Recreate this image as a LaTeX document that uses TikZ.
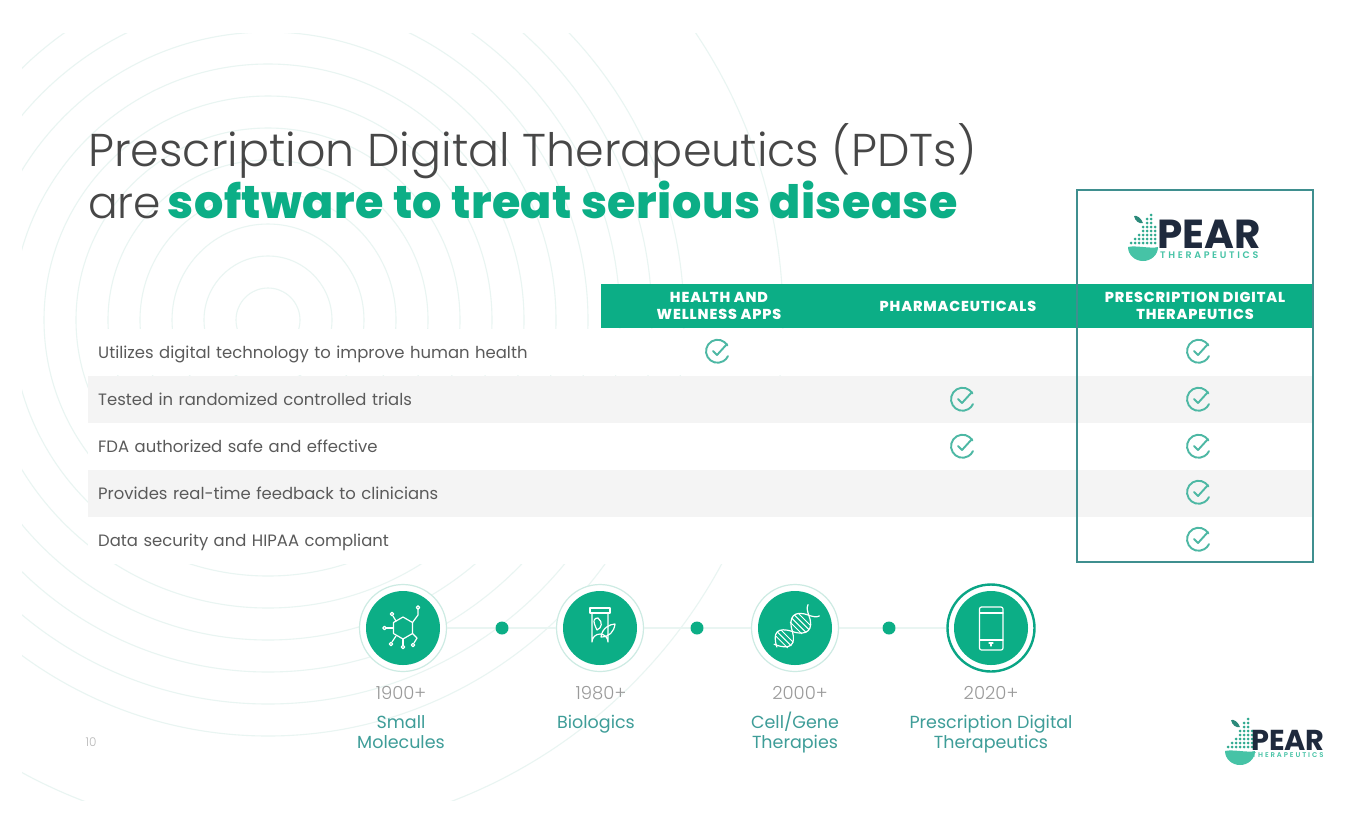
\documentclass[tikz,border=0pt]{standalone}
\usepackage{fontspec}
\setmainfont{Poppins Light}
\newfontfamily\titlebold{Poppins ExtraBold}[LetterSpace=1]
\newfontfamily\headbold{Poppins ExtraBold}[LetterSpace=6]
\newfontfamily\logobold{Poppins Bold}
\newfontfamily\logosmall{Poppins SemiBold}[LetterSpace=28]
\newfontfamily\bodyfont{Poppins}
\usepackage{tikz}
\usetikzlibrary{positioning, arrows.meta, shapes.geometric, fit}
\usepackage{xcolor}
\definecolor{peargreen}{HTML}{0CAE86}
\definecolor{pearframe}{HTML}{3F8F8F}
\definecolor{pearlabel}{HTML}{3E9D98}
\definecolor{pearhalo}{HTML}{CDEBE3}
\definecolor{pearring}{HTML}{E9F5F2}
\definecolor{pearmint}{HTML}{46C3A6}
\definecolor{pearcheck}{HTML}{4DB8A4}
\definecolor{peardots}{HTML}{2FA98F}
\definecolor{pearnavy}{HTML}{1F2A3D}
\definecolor{rowgrey}{HTML}{F4F4F4}
\definecolor{rowtext}{HTML}{5A5A5A}
\definecolor{yeartext}{HTML}{9A9A9A}

\begin{document}
\begin{tikzpicture}[
      x=1pt, y=-1pt,
      node distance=0pt,
      titleline/.style={anchor=base west, inner sep=0pt, text=black!72, font=\fontsize{46}{46}\selectfont},
      rowbox/.style={
        rectangle, anchor=north west, minimum height=46.7pt, text width=1205pt,
        inner xsep=10pt, inner ysep=0pt, align=left, text=rowtext,
        text height=14pt, text depth=2pt,
        font=\fontsize{16.45}{20}\bodyfont,
      },
      headbox/.style={
        rectangle, fill=peargreen, text=white, align=center, inner sep=0pt,
        minimum height=44pt, font=\fontsize{14.4}{17}\headbold,
      },
      halo/.style={circle, draw=pearhalo, line width=1.2pt, fill=white, minimum size=87pt, inner sep=0pt},
      disc/.style={circle, fill=peargreen, minimum size=74pt, inner sep=0pt},
      dotnode/.style={circle, fill=peargreen, minimum size=13pt, inner sep=0pt},
      link/.style={draw=pearring, line width=1.2pt},
      yearlabel/.style={text=yeartext, inner sep=0pt, font=\fontsize{18}{20}\selectfont},
      stagelabel/.style={text=pearlabel, align=center, inner sep=0pt, anchor=north,
        execute at begin node=\strut, font=\fontsize{17.5}{20.5}\bodyfont},
      icon/.style={draw=white, line width=1.2pt, line cap=round, line join=round},
      checkicon/.pic={
        \draw[pearcheck, line width=1.9pt, line cap=round]
          (9.5,-5.5) arc[start angle=-30, end angle=-335, radius=11.5];
        \draw[pearcheck, line width=1.9pt, line cap=round, line join=round]
          (-5,0) -- (-1,4) -- (9,-7);
      },
      pearmark/.pic={
        \fill[pearmint] (-15,0) .. controls (-8,-2) and (8,2) .. (15,0) arc[start angle=0, end angle=180, x radius=15, y radius=14] -- cycle;
        \foreach \py/\pa/\pb in {-32/5/9, -28/3/11, -24/1/11, -20/-1/12, -16/-3/13, -12/-6/14, -8/-9/15, -4/-12/15} {
          \foreach \px in {\pa,...,\pb} {
            \pgfmathparse{int(mod(\px+\py,4))}
            \ifnum\pgfmathresult=0
              \fill[peardots] (\px,\py) circle[radius=1.5];
            \fi
          }
        }
        \fill[peardots!75!pearnavy] (-9,-31) .. controls (-6,-32) and (-2,-29) .. (0,-24) .. controls (-4,-23) and (-8,-26) .. (-9,-31);
      },
    ]
      \useasboundingbox (0,0) rectangle (1365,823);
      \fill[white] (0,0) rectangle (1365,823);

      % background rings
      \begin{scope}
        \clip (22,33) rectangle (790,800);
        \foreach \r in {32,64,...,416,515}
          \draw[pearring, line width=1.1pt] (268,320) circle[radius=\r];
      \end{scope}

      % title
      \node[titleline] (titleone) at (88,166) {Prescription Digital Therapeutics (PDTs)};
      \node[titleline] (titletwo) at (88,218) {{\fontsize{44}{44}\selectfont are}\hspace{-6pt} {\titlebold\color{peargreen}software to treat serious disease}};

      % table rows
      \node[rowbox, fill=white] (rowone) at (88,328.5) {Utilizes digital technology to improve human health};
      \node[rowbox, fill=rowgrey, below=of rowone] (rowtwo) {Tested in randomized controlled trials};
      \node[rowbox, fill=white, below=of rowtwo] (rowthree) {FDA authorized safe and effective};
      \node[rowbox, fill=rowgrey, below=of rowthree] (rowfour) {Provides real-time feedback to clinicians};
      \node[rowbox, fill=white, below=of rowfour] (rowfive) {Data security and HIPAA compliant};

      % table head
      \node[headbox, minimum width=476pt] (headfill) at (839,306) {};
      \node[headbox, minimum width=236pt] (headpdt) at (1195,306) {PRESCRIPTION DIGITAL\\THERAPEUTICS};
      \node[headbox, fill=none] (headapps) at (719,306) {HEALTH AND\\WELLNESS APPS};
      \node[headbox, fill=none] (headpharma) at (958,306) {PHARMACEUTICALS};

      % frame round the last column
      \node[draw=pearframe, line width=2.2pt, rectangle, inner sep=0pt,
            minimum width=236pt, minimum height=372pt] (pdtframe) at (1195,376) {};

      % checks
      \pic at (718,351) {checkicon};
      \pic at (1199,351) {checkicon};
      \pic at (963,399) {checkicon};
      \pic at (1199,399) {checkicon};
      \pic at (963,446) {checkicon};
      \pic at (1199,446) {checkicon};
      \pic at (1199,492) {checkicon};
      \pic at (1199,539) {checkicon};

      % big logo
      \pic at (1143,247) {pearmark};
      \node[anchor=base west, inner sep=0pt, text=pearnavy, font=\fontsize{40.5}{40}\logobold] (logoname) at (1157,248) {PEAR};
      \node[anchor=base west, inner sep=0pt, text=pearmint, font=\fontsize{9.5}{10}\logosmall] (logosub) at (1160,258.5) {THERAPEUTICS};

      % timeline
      \node[halo] (ringmol) at (403,628) {};
      \node[halo] (ringbio) at (600,628) {};
      \node[halo] (ringgene) at (795,628) {};
      \node[circle, draw=peargreen!80!teal, line width=2.4pt, fill=white, minimum size=87pt, inner sep=0pt] (ringdigital) at (991,628) {};
      \node[disc] (discmol) at (ringmol) {};
      \node[disc] (discbio) at (ringbio) {};
      \node[disc] (discgene) at (ringgene) {};
      \node[disc] (discdigital) at (ringdigital) {};
      \node[dotnode] (dotone) at (502,628) {};
      \node[dotnode] (dottwo) at (697,628) {};
      \node[dotnode] (dotthree) at (889,628) {};
      \draw[link] (ringmol) -- (dotone);
      \draw[link] (dotone) -- (ringbio);
      \draw[link] (ringbio) -- (dottwo);
      \draw[link] (dottwo) -- (ringgene);
      \draw[link] (ringgene) -- (dotthree);
      \draw[link] (dotthree) -- (ringdigital);

      % molecule
      \draw[icon] (403,617) -- (412.5,622.5) -- (412.5,633.5) -- (403,639) -- (393.5,633.5) -- (393.5,622.5) -- cycle;
      \draw[icon] (412.5,622.5) -- (418,615) -- (418,609);
      \draw[icon] (393.5,628) -- (386,628);
      \draw[icon] (396,636) -- (392,642);
      \draw[icon] (403,639) -- (403,645);
      \draw[icon] (412.5,633.5) -- (417,638) -- (414,643);
      \draw[icon] (396,621) -- (393,616);
      \draw[icon] (418,607.5) circle[radius=1.7] (384.5,628) circle[radius=1.7] (391,644) circle[radius=1.7] (403,647) circle[radius=1.7] (413,645) circle[radius=1.7] (392,614) circle[radius=1.7];

      % tube
      \draw[icon] (590,608) rectangle (610,613);
      \draw[icon] (592,613) -- (592,642) arc[start angle=180, end angle=360, radius=8] -- (608,613);
      \draw[icon] (597,630) .. controls (592,620) and (594,618) .. (598,618) .. controls (603,622) and (602,628) .. (597,630);
      \draw[icon] (601,637) .. controls (602,628) and (610,624) .. (615,624) .. controls (614,632) and (609,637) .. (601,637);

      % helix
      \begin{scope}[shift={(796,628)}, rotate=45]
        \draw[icon] (-27,0) .. controls (-20,-14) and (-12,-14) .. (-5,0) .. controls (2,14) and (12,14) .. (18,0) .. controls (20,-4) and (22,-7) .. (25,-8);
        \draw[icon] (-27,-4) .. controls (-20,12) and (-12,12) .. (-5,0) .. controls (2,-14) and (12,-14) .. (18,0) .. controls (20,4) and (22,7) .. (25,8);
        \draw[icon, line width=1pt] (-20,-8) -- (-20,8) (-16,-10) -- (-16,9) (-12,-9) -- (-12,8) (0,-8) -- (0,8) (4,-10) -- (4,10) (8,-10) -- (8,10) (12,-8) -- (12,8);
      \end{scope}

      % phone
      \draw[icon, rounded corners=2pt] (979.5,607) rectangle (1003,650);
      \draw[icon] (979.5,613) -- (1003,613);
      \draw[icon] (979.5,640) -- (1003,640);
      \draw[icon] (989,643) -- (993,643);
      \draw[icon] (991,643) -- (991,646);

      % years and names
      \node[yearlabel] (yearmol) at (401,693) {1900+};
      \node[yearlabel] (yearbio) at (601,693) {1980+};
      \node[yearlabel] (yeargene) at (800,693) {2000+};
      \node[yearlabel] (yeardigital) at (991,693) {2020+};
      \node[stagelabel] (namemol) at (401,715) {Small\\Molecules};
      \node[stagelabel] (namebio) at (596,713.5) {Biologics};
      \node[stagelabel] (namegene) at (795,711.5) {Cell/Gene\\Therapies};
      \node[stagelabel] (namedigital) at (991,714.5) {Prescription Digital\\Therapeutics};

      % footer
      \node[text=yeartext!70, inner sep=0pt, font=\fontsize{12}{12}\selectfont] (pagenum) at (91,742) {10};
      \begin{scope}[shift={(1240,751)}, scale=0.68]
        \pic at (0,0) {pearmark};
      \end{scope}
      \node[anchor=base west, inner sep=0pt, text=pearnavy, font=\fontsize{28.8}{28}\logobold] (footname) at (1251,750) {PEAR};
      \node[anchor=base west, inner sep=0pt, text=pearmint, font=\fontsize{6.9}{7}\logosmall] (footsub) at (1252,757.5) {THERAPEUTICS};
    \end{tikzpicture}
\end{document}
